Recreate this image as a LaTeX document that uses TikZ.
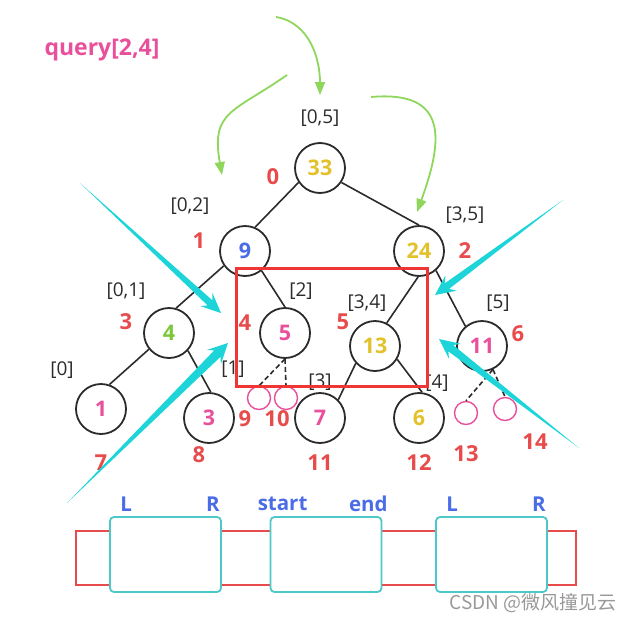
\documentclass[tikz,border=0pt]{standalone}
\usepackage{fontspec}
\setmainfont{Open Sans}
\newfontfamily\cjk{Noto Sans CJK SC}
\usetikzlibrary{arrows.meta,calc,positioning}

\definecolor{ink}{HTML}{2B2B2B}
\definecolor{gold}{HTML}{E2C12A}
\definecolor{royal}{HTML}{4A6CE6}
\definecolor{leaf}{HTML}{7CC83A}
\definecolor{rose}{HTML}{E8509C}
\definecolor{brick}{HTML}{E84B4B}
\definecolor{hitred}{HTML}{F03535}
\definecolor{aqua}{HTML}{1DD5D8}
\definecolor{grass}{HTML}{8FD65C}
\definecolor{boxteal}{HTML}{4CC8C8}

% tapered arrow: tail, tip, shaft half width, head half width
\newcommand{\brusharrow}[4]{%
  \fill[brush] (#1)
    -- ($(#2)!15pt!(#1)!#3!90:(#2)$)
    -- ($(#2)!20pt!(#1)!#4!90:(#2)$)
    -- (#2)
    -- ($(#2)!20pt!(#1)!#4!-90:(#2)$)
    -- ($(#2)!15pt!(#1)!#3!-90:(#2)$)
    -- cycle;}

\begin{document}
\begin{tikzpicture}[
		x=1pt, y=-1pt, on grid,
		seg/.style={circle, draw=ink, line width=1.8pt, minimum size=50pt, inner sep=0pt, font=\bfseries\fontsize{21.5}{21.5}\selectfont},
		hole/.style={circle, draw=rose, line width=1.4pt, minimum size=23pt, inner sep=0pt},
		ivl/.style={text=ink, inner sep=0pt, font=\fontsize{19}{19}\selectfont},
		idx/.style={text=brick, inner sep=0pt, font=\bfseries\fontsize{22}{22}\selectfont},
		link/.style={draw=ink, line width=1.6pt},
		lazy/.style={link, dash pattern=on 5pt off 3pt},
		guide/.style={draw=grass, line width=1.8pt, -{Triangle[length=13pt, width=10pt]}},
		brush/.style={fill=aqua},
		hit/.style={draw=hitred, line width=3pt},
		record/.style={draw=brick, line width=1.8pt, minimum width=500pt, minimum height=54pt},
		field/.style={draw=boxteal, line width=1.8pt, rounded corners=4pt, fill=white, minimum width=111pt, minimum height=75pt},
		tag/.style={text=royal, inner sep=0pt, font=\bfseries\fontsize{20.5}{20.5}\selectfont},
	]
	\useasboundingbox (0,0) rectangle (631,621);

	\node[text=rose, inner sep=0pt, font=\bfseries\fontsize{23}{23}\selectfont] (query) at (102,50) {query[2,4]};

	% segment tree
	\node[seg, text=gold] (t0) at (320,168) {33};
	\node[seg, text=royal, below left=83pt and 75pt of t0] (t1) {9};
	\node[seg, text=gold, below right=83pt and 99pt of t0] (t2) {24};
	\node[seg, text=leaf, below left=82pt and 76pt of t1] (t3) {4};
	\node[seg, text=rose, below right=82pt and 40pt of t1] (t4) {5};
	\node[seg, text=gold, below left=95pt and 44pt of t2] (t5) {13};
	\node[seg, text=rose, below right=95pt and 63pt of t2] (t6) {11};
	\node[seg, text=rose, below left=76pt and 68pt of t3] (t7) {1};
	\node[seg, text=rose, below right=85pt and 40pt of t3] (t8) {3};
	\node[hole, below left=65pt and 26pt of t4] (t9) {};
	\node[hole, below right=65pt and 1pt of t4] (t10) {};
	\node[seg, text=rose, below left=72pt and 55pt of t5] (t11) {7};
	\node[seg, text=gold, below right=72pt and 44pt of t5] (t12) {6};
	\node[hole, below left=67pt and 16pt of t6] (t13) {};
	\node[hole, below right=63pt and 23pt of t6] (t14) {};

	\draw[link] (t0.214) -- (t1.67);
	\draw[link] (t0.-34) -- (t2.north);
	\draw[link] (t1.215) -- (t3.74);
	\draw[link] (t1.-50) -- (t4.north);
	\draw[link] (t2.-92) -- (t5.63);
	\draw[link] (t2.-49) -- (t6.130);
	\draw[link] (t3.219) -- (t7.71);
	\draw[link] (t3.-43) -- (t8.86);
	\draw[link] (t5.222) -- (t11.45);
	\draw[link] (t5.-31) -- (t12.83);
	\draw[lazy] (t4.south) -- (t9.north);
	\draw[lazy] (t4.south) -- (t10.north);
	\draw[lazy] (t6.-65) -- (t13.north);
	\draw[lazy] (t6.-65) -- (t14.north);

	% intervals
	\node[ivl, above=50pt of t0] (r0) {[0,5]};
	\node[ivl, above left=45pt and 55pt of t1] (r1) {[0,2]};
	\node[ivl, above right=36pt and 46pt of t2] (r2) {[3,5]};
	\node[ivl, above left=42pt and 43pt of t3] (r3) {[0,1]};
	\node[ivl, above right=42pt and 16pt of t4] (r4) {[2]};
	\node[ivl, above left=43pt and 8pt of t5] (r5) {[3,4]};
	\node[ivl, above right=43pt and 16pt of t6] (r6) {[5]};
	\node[ivl, above left=39pt and 39pt of t7] (r7) {[0]};
	\node[ivl, above right=49pt and 24pt of t8] (r8) {[1]};
	\node[ivl, above=36pt of t11] (r11) {[3]};
	\node[ivl, above right=35pt and 18pt of t12] (r12) {[4]};

	% array indices
	\node[idx, below left=9pt and 47pt of t0] (i0) {0};
	\node[idx, above left=10pt and 46pt of t1] (i1) {1};
	\node[idx, right=46pt of t2] (i2) {2};
	\node[idx, above left=11pt and 43pt of t3] (i3) {3};
	\node[idx, above left=10pt and 40pt of t4] (i4) {4};
	\node[idx, above left=24pt and 32pt of t5] (i5) {5};
	\node[idx, above right=12pt and 36pt of t6] (i6) {6};
	\node[idx, below=54pt of t7] (i7) {7};
	\node[idx, below left=37pt and 10pt of t8] (i8) {8};
	\node[idx, below left=21pt and 14pt of t9] (i9) {9};
	\node[idx, below left=21pt and 9pt of t10] (i10) {10};
	\node[idx, below=45pt of t11] (i11) {11};
	\node[idx, below=45pt of t12] (i12) {12};
	\node[idx, below=41pt of t13] (i13) {13};
	\node[idx, below right=33pt and 30pt of t14] (i14) {14};

	\draw[hit] (236,268) rectangle (427,386);

	% cyan pointers
	\coordinate (a1) at (80,183);   \coordinate (p1) at (221,313);
	\coordinate (a2) at (67,503);   \coordinate (p2) at (228,343);
	\coordinate (a3) at (563,200);  \coordinate (p3) at (435,295);
	\coordinate (a4) at (579,448);  \coordinate (p4) at (439,339);
	\brusharrow{a1}{p1}{3.5pt}{9pt}
	\brusharrow{a2}{p2}{4.5pt}{10pt}
	\brusharrow{a3}{p3}{3.5pt}{9.5pt}
	\brusharrow{a4}{p4}{4pt}{9.5pt}

	% green recursion arrows
	\coordinate (g1) at (276,17);   \coordinate (h1) at (320,95);
	\coordinate (g2) at (287,75);   \coordinate (h2) at (222,175);
	\coordinate (g3) at (371,97);   \coordinate (h3) at (417,212);
	\draw[guide] (g1) to[out=-10, in=90] (h1);
	\draw[guide] (g2) to[out=215, in=100, looseness=1.4] (h2);
	\draw[guide] (g3) to[out=5, in=70, looseness=1.6] (h3);

	% node layout
	\node[record] (rec) at (326,558) {};
	\node[field, above=3.5pt of rec] (mid) {};
	\node[field, left=160.5pt of mid] (lo) {};
	\node[field, right=165.5pt of mid] (hi) {};
	\node[tag] (lo-l) at ($(lo.north west)+(17,-12)$) {L};
	\node[tag] (lo-r) at ($(lo.north east)+(-9,-12)$) {R};
	\node[tag] (mid-l) at ($(mid.north west)+(13,-12)$) {start};
	\node[tag] (mid-r) at ($(mid.north east)+(-14,-12)$) {end};
	\node[tag] (hi-l) at ($(hi.north west)+(17,-12)$) {L};
	\node[tag] (hi-r) at ($(hi.north east)+(-9,-12)$) {R};

	\node[text=black!40, inner sep=0pt, font=\cjk\fontsize{19}{19}\selectfont] (mark) at (533,603) {CSDN @微风撞见云};
\end{tikzpicture}
\end{document}
